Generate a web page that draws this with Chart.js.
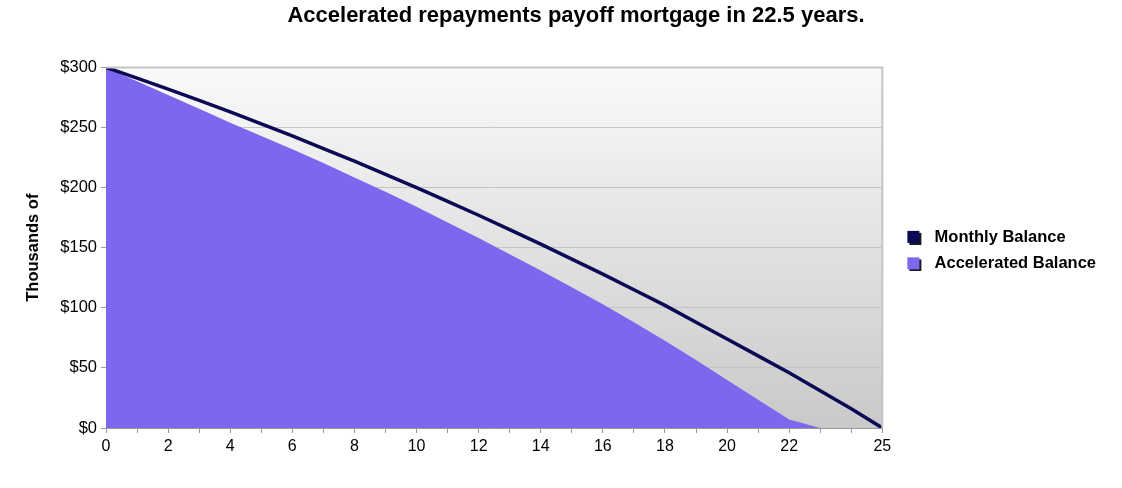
<!DOCTYPE html>
<html>
<head>
<meta charset="utf-8">
<script src="https://cdn.jsdelivr.net/npm/chart.js@4"></script>
<style>
  body { margin: 0; background: #fff; }
  #wrap { width: 1122px; height: 488px; }
</style>
</head>
<body>
<div id="wrap"><canvas id="mortChart"></canvas></div>
<script>
var years = [0, 1, 2, 3, 4, 5, 6, 7, 8, 9, 10, 11, 12, 13, 14, 15, 16, 17, 18, 19, 20, 21, 22, 23, 24, 25];
var monthlyBalance = [300, 291, 282, 272.5, 263, 253, 243, 232.5, 222, 211, 200, 188.5, 177, 165, 153, 140.5, 128, 115, 102, 88, 74, 60, 46, 31, 16, 0];
var accelYears = [0, 1, 2, 3, 4, 5, 6, 7, 8, 9, 10, 11, 12, 13, 14, 15, 16, 17, 18, 19, 20, 21, 22, 23];
var acceleratedBalance = [300, 288.5, 277, 265.5, 254, 243, 232, 220.5, 208.5, 196.5, 184, 171, 158, 144.5, 131, 117, 103, 88, 72.5, 56.5, 40, 23.5, 7, 0];
var yTicks = [0, 50, 100, 150, 200, 250, 300];
var xLabelled = [0, 2, 4, 6, 8, 10, 12, 14, 16, 18, 20, 22, 25];

function toPoints(xs, ys) {
    return xs.map(function (x, i) { return { x: x, y: ys[i] }; });
}

// little legend swatch: coloured square with a dark drop shadow
function swatch(color) {
    var c = document.createElement('canvas');
    c.width = 34; c.height = 15;
    var g = c.getContext('2d');
    g.fillStyle = '#1a1a1a';
    g.fillRect(17, 3, 12, 12);
    g.fillStyle = color;
    g.fillRect(15, 1, 12, 12);
    return c;
}

// gradient plot background + border
var plotBg = {
    id: 'plotBg',
    beforeDraw: function (chart) {
        var a = chart.chartArea, ctx = chart.ctx;
        var g = ctx.createLinearGradient(0, a.top, 0, a.bottom);
        g.addColorStop(0, '#fafafa');
        g.addColorStop(1, '#c9c9c9');
        ctx.save();
        ctx.fillStyle = g;
        ctx.fillRect(a.left, a.top, a.right - a.left, a.bottom - a.top);
        ctx.restore();
    },
    afterDraw: function (chart) {
        var a = chart.chartArea, ctx = chart.ctx;
        ctx.save();
        ctx.strokeStyle = '#c4c4c4';
        ctx.lineWidth = 2;
        ctx.beginPath();
        ctx.moveTo(a.left, a.top);
        ctx.lineTo(a.right, a.top);
        ctx.lineTo(a.right, a.bottom);
        ctx.stroke();
        ctx.restore();
    }
};

var font = 'Liberation Sans, Arial, sans-serif';
var ctxM = document.getElementById("mortChart").getContext("2d");
var mortChart = new Chart(ctxM, {
    type: 'line',
    data: {
        datasets: [{
            label: 'Monthly Balance',
            data: toPoints(years, monthlyBalance),
            borderColor: '#0a0a55',
            backgroundColor: '#0a0a55',
            borderWidth: 3.5,
            pointRadius: 0,
            pointStyle: swatch('#0a0a55'),
            fill: false,
            tension: 0
        },
        {
            label: 'Accelerated Balance',
            data: toPoints(accelYears, acceleratedBalance),
            borderColor: '#7b68ee',
            backgroundColor: '#7b68ee',
            borderWidth: 0,
            pointRadius: 0,
            pointStyle: swatch('#7b68ee'),
            fill: 'origin',
            tension: 0
        }]
    },
    options: {
        responsive: true,
        maintainAspectRatio: false,
        animation: false,
        layout: { padding: { left: 46, right: 16, top: 0, bottom: 0 } },
        plugins: {
            title: {
                display: true,
                text: 'Accelerated repayments payoff mortgage in 22.5 years.',
                color: '#000',
                font: { family: font, size: 22, weight: 'bold' },
                padding: { top: 3, bottom: 38 }
            },
            legend: {
                position: 'right',
                title: { display: true, text: ' ', font: { size: 1 }, padding: 6 },
                labels: {
                    color: '#000',
                    font: { family: font, size: 16.5, weight: 'bold' },
                    usePointStyle: true,
                    pointStyleWidth: 34,
                    boxHeight: 12,
                    padding: 10
                }
            },
            tooltip: { enabled: false }
        },
        scales: {
            x: {
                type: 'linear',
                min: 0,
                max: 25,
                afterFit: function (s) { s.height = 60; },
                grid: { drawOnChartArea: false, drawTicks: true, tickLength: 5, tickColor: '#999' },
                border: { color: '#999', width: 1 },
                ticks: {
                    stepSize: 1,
                    autoSkip: false,
                    maxRotation: 0,
                    color: '#000',
                    font: { family: font, size: 16 },
                    padding: 4,
                    callback: function (v) { return xLabelled.indexOf(v) >= 0 ? v : ''; }
                }
            },
            y: {
                min: 0,
                max: 300,
                afterFit: function (s) { s.width = 60; },
                afterBuildTicks: function (s) { s.ticks = yTicks.map(function (v) { return { value: v }; }); },
                grid: { color: '#c4c4c4', tickLength: 5, tickColor: '#999' },
                border: { color: '#999', width: 1 },
                title: {
                    display: true,
                    text: 'Thousands of',
                    color: '#000',
                    font: { family: font, size: 16.5, weight: 'bold' },
                    padding: { top: -22, bottom: 0 }
                },
                ticks: {
                    color: '#000',
                    font: { family: font, size: 16.5 },
                    padding: 4,
                    callback: function (v) { return '$' + v; }
                }
            }
        }
    },
    plugins: [plotBg]
});
</script>
</body>
</html>
